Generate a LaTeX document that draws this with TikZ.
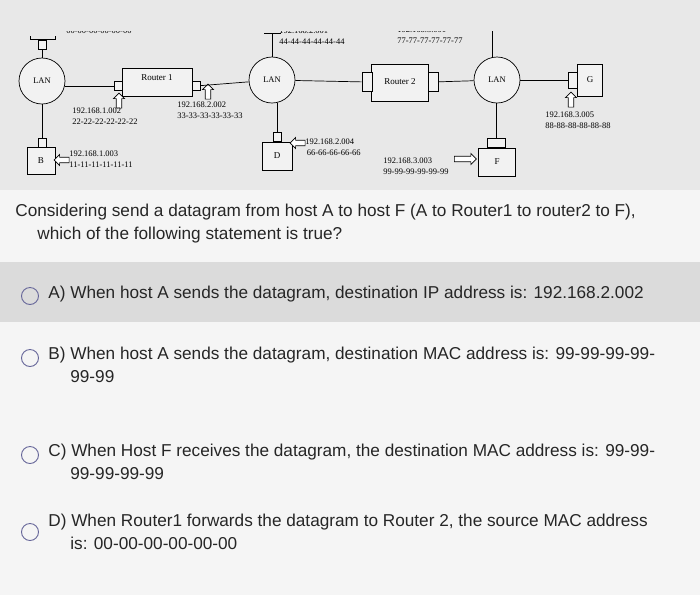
\documentclass[tikz,border=0pt]{standalone}
\usepackage{fontspec}
\setmainfont{Liberation Serif}
\newfontfamily\qfont{Liberation Sans}
\usetikzlibrary{shapes.arrows}
\begin{document}
\begin{tikzpicture}[x=1pt,y=-1pt,line width=0.7pt,
  lan/.style={circle,draw,minimum size=46pt,inner sep=0pt,font=\fontsize{8.5}{8}\selectfont,fill=white!90!gray},
  box/.style={draw,fill=white!90!gray,inner sep=0pt,font=\fontsize{9}{9}\selectfont},
  port/.style={draw,fill=white!90!gray,inner sep=0pt,minimum width=8pt,minimum height=9pt},
  lbl/.style={font=\fontsize{8.5}{10.5}\selectfont,align=left,anchor=west,inner sep=0pt},
  arr/.style={single arrow,draw,fill=white,inner sep=2.2pt,minimum height=15pt,minimum width=11pt,single arrow head extend=2.5pt},
  q/.style={font=\qfont\fontsize{17.2}{23}\selectfont,anchor=north west,align=left,inner sep=0pt,text=black!85},
  opt/.style={circle,draw=gray!80!blue,line width=0.9pt,minimum size=17pt,inner sep=0pt}]
\useasboundingbox (0,0) rectangle (700,595);
\fill[gray!18] (0,0) rectangle (700,595);
\fill[gray!8] (0,190) rectangle (700,595);
\fill[gray!28] (0,262) rectangle (700,322);
\begin{scope}
\clip (0,31) rectangle (700,190);
% LAN1
\node[lan] (l1) at (42,81) {LAN};
\node[port] (pa) at (42,45) {};
\draw (l1) -- (pa);
\draw (30,36) -- (30,39) -- (55,39) -- (55,36);
\node[lbl] (ta) at (66,31) {00-00-00-00-00-00};
\node[port] (pb) at (42,143) {};
\node[box,minimum width=28pt,minimum height=27pt] (B) at (41,161) {B};
\draw (l1) -- (pb);
\node[arr,shape border rotate=180] (ab) at (63,160) {};
\node[lbl] (tb) at (69,159) {192.168.1.003\\11-11-11-11-11-11};
% Router1
\node[box,minimum width=70pt,minimum height=28pt,anchor=north] (r1) at (157,68) {};
\node[font=\fontsize{9}{9}\selectfont] at (157,78) {Router 1};
\node[port] (r1l) at (118,86) {};
\node[port] (r1r) at (196,86) {};
\draw (l1.east |- r1l) -- (r1l);
\node[arr,shape border rotate=90] (a1) at (119,102) {};
\node[lbl] (t1) at (72,116) {192.168.1.002\\22-22-22-22-22-22};
\node[arr,shape border rotate=90] (a2) at (208,93) {};
\node[lbl] (t2) at (177,110) {192.168.2.002\\33-33-33-33-33-33};
% LAN2
\node[lan] (l2) at (272,80) {LAN};
\draw (r1r) -- (l2);
\coordinate (top2) at (272,33);
\draw (l2) -- (top2);
\draw (264,33) -- (281,33);
\node[lbl] (t3) at (279,36) {192.168.2.001\\44-44-44-44-44-44};
\node[port] (pd) at (277,137) {};
\draw (pd |- l2.south) -- (pd);
\node[box,minimum width=30pt,minimum height=28pt] (D) at (277,156) {D};
\node[arr,shape border rotate=180] (ad) at (299,143) {};
\node[lbl] (td) at (305,147) {192.168.2.004\\\,66-66-66-66-66};
% Router2
\node[box,minimum width=57pt,minimum height=37pt] (r2) at (400,83) {};
\node[font=\fontsize{9}{9}\selectfont] at (400,82) {Router 2};
\node[port,minimum width=10pt,minimum height=19pt] (r2l) at (367,82) {};
\node[port,minimum width=10pt,minimum height=19pt] (r2r) at (433,82) {};
\draw (l2) -- (r2l);
\node[lbl] (t4) at (397,35) {192.168.3.001\\77-77-77-77-77-77};
% LAN3
\node[lan] (l3) at (497,80) {LAN};
\draw (r2r) -- (l3);
\coordinate (top3) at (492,27);
\draw (top3 |- l3.north) -- (top3);
\draw (485,28) -- (500,28);
\node[box,minimum width=25pt,minimum height=32pt] (G) at (590,80) {G};
\node[port,minimum width=9pt,minimum height=16pt] (pg) at (573,80) {};
\draw (l3) -- (pg);
\node[arr,shape border rotate=90] (ag) at (571,101) {};
\node[lbl] (tg) at (545,120) {192.168.3.005\\88-88-88-88-88-88};
\node[port,minimum width=18pt,minimum height=9pt] (pf) at (496,143) {};
\draw (pf |- l3.south) -- (pf);
\node[box,minimum width=37pt,minimum height=28pt] (F) at (497,162) {F};
\node[arr,minimum height=22pt] (af) at (464,159) {};
\node[lbl] (tf) at (383,166) {192.168.3.003\\99-99-99-99-99-99};
\end{scope}
% question
\node[q] (qq) at (15,204) {Considering send a datagram from host A to host F (A to Router1 to router2 to F),\\\hspace*{22pt}which of the following statement is true?};
\node[opt] (oa) at (30,296) {};
\node[q] (ta) at (48,286) {A) When host A sends the datagram, destination IP address is: 192.168.2.002};
\node[opt] (ob) at (30,358) {};
\node[q] (tb) at (48,347) {B) When host A sends the datagram, destination MAC address is: 99-99-99-99-\\\hspace*{22pt}99-99};
\node[opt] (oc) at (30,455) {};
\node[q] (tc) at (48,444) {C) When Host F receives the datagram, the destination MAC address is: 99-99-\\\hspace*{22pt}99-99-99-99};
\node[opt] (od) at (30,532) {};
\node[q] (td) at (48,514) {D) When Router1 forwards the datagram to Router 2, the source MAC address\\\hspace*{22pt}is: 00-00-00-00-00-00};
\end{tikzpicture}
\end{document}
